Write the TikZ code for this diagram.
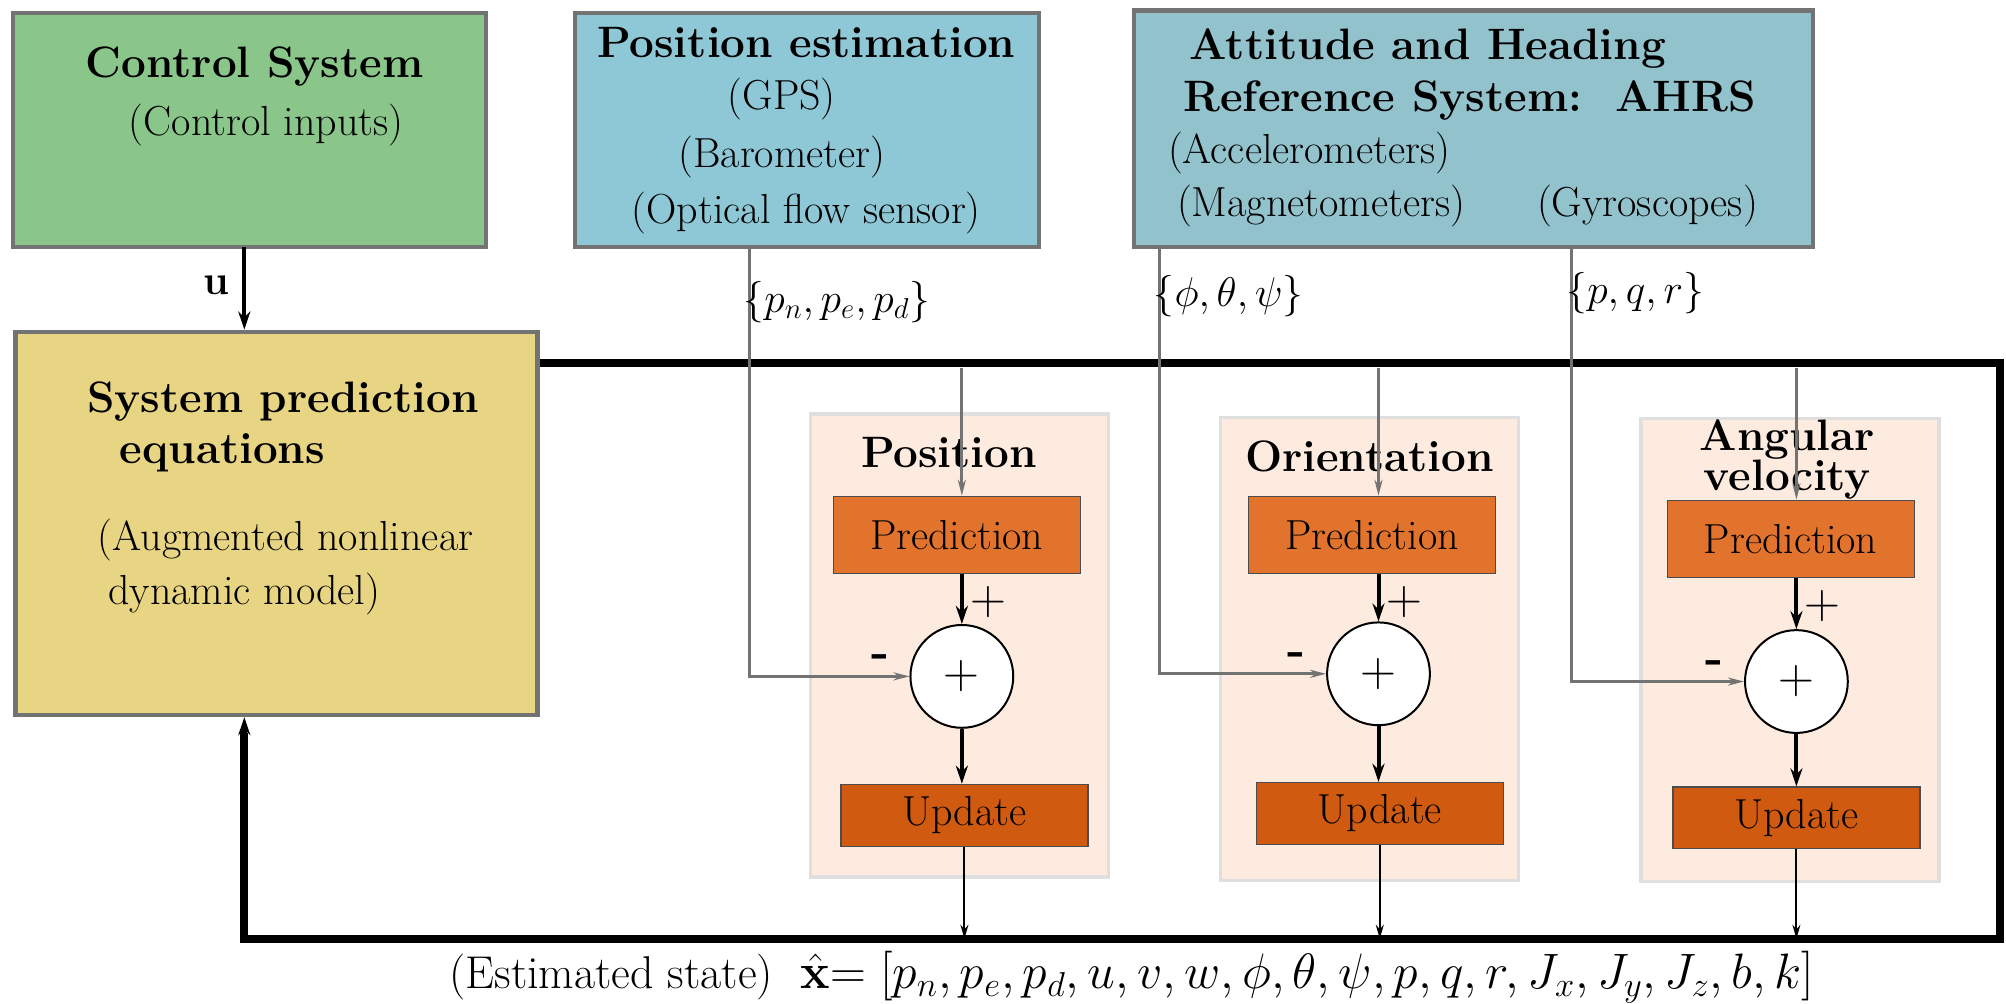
\documentclass[tikz,border=0pt]{standalone}
\usepackage{amsmath,amssymb,bm}
\usetikzlibrary{arrows.meta}
\definecolor{ctrlgreen}{RGB}{138,198,138}
\definecolor{sensblue}{RGB}{142,200,214}
\definecolor{ahrsblue}{RGB}{146,194,204}
\definecolor{sysyellow}{RGB}{232,213,132}
\definecolor{panelbg}{RGB}{253,235,223}
\definecolor{predor}{RGB}{225,115,45}
\definecolor{updor}{RGB}{208,90,16}
\tikzset{
  bigbox/.style={draw=gray!90!black, line width=2.2pt, inner sep=0pt},
  panel/.style={draw=gray!25, fill=panelbg, line width=1.6pt, inner sep=0pt,
    minimum width=149pt, minimum height=231.5pt},
  pred/.style={draw=black!70, fill=predor, line width=0.6pt, inner sep=0pt,
    minimum width=123.5pt, minimum height=38.6pt, font=\fontsize{21}{24}\selectfont},
  upd/.style={draw=black!70, fill=updor, line width=0.6pt, inner sep=0pt,
    minimum width=123.5pt, minimum height=30.9pt, font=\fontsize{21}{24}\selectfont},
  sum/.style={circle, draw, line width=1pt, fill=white, minimum size=51.4pt, inner sep=0pt,
    font=\fontsize{46}{46}\selectfont},
  txt/.style={inner sep=0pt, font=\fontsize{21}{24}\selectfont},
  ttl/.style={inner sep=0pt, font=\fontsize{22}{24}\selectfont\bfseries},
  sens/.style={draw=gray!90!black, line width=1.4pt},
  sarr/.style={sens, -{Stealth[length=8pt,width=4pt]}},
  flow/.style={draw=black, line width=2pt, -{Stealth[length=9pt,width=6pt]}},
  thin/.style={draw=black, line width=1pt, -{Stealth[length=7pt,width=4pt]}},
  loop/.style={draw=black, line width=4pt, line join=miter},
}
\begin{document}
\begin{tikzpicture}[x=0.643pt,y=-0.643pt]
\useasboundingbox (0,0) rectangle (1560,780);

% top boxes
\node[bigbox, fill=ctrlgreen, minimum width=236.6pt, minimum height=117pt] (ctrl) at (194,101) {};
\node[ttl] (ctrlt) at (198,52) {Control System};
\node[txt] (ctrls) at (207,97) {(Control inputs)};

\node[bigbox, fill=sensblue, minimum width=232pt, minimum height=117pt] (pos) at (627.5,101) {};
\node[ttl] (post) at (627,33) {Position estimation};
\node[txt] (gps) at (608,77) {(GPS)};
\node[txt] (baro) at (608,122) {(Barometer)};
\node[txt] (opt) at (627,166) {(Optical flow sensor)};

\node[bigbox, fill=ahrsblue, minimum width=339.5pt, minimum height=118.3pt] (ahrs) at (1146,100) {};
\node[ttl, anchor=west] (ahrst1) at (925,38) {Attitude and Heading};
\node[ttl, anchor=west] (ahrst2) at (920,78) {Reference System:\ \ AHRS};
\node[txt, anchor=west] (acc) at (908,119) {(Accelerometers)};
\node[txt, anchor=west] (mag) at (915,160) {(Magnetometers)};
\node[txt, anchor=west] (gyr) at (1195,160) {(Gyroscopes)};

% system prediction
\node[bigbox, fill=sysyellow, minimum width=261pt, minimum height=191.6pt] (sys) at (215,407) {};
\node[ttl] (syst1) at (220,312) {System prediction};
\node[ttl] (syst2) at (173,352) {equations};
\node[txt] (sys1) at (222,420) {(Augmented nonlinear};
\node[txt] (sys2) at (190,462) {dynamic model)};

\draw[flow] (190,192) -- (sys.north -| 190,0);
\node[inner sep=0pt, font=\fontsize{22}{24}\selectfont] (ul) at (168,222) {$\mathbf{u}$};

% panels
\node[panel] (p1) at (746,502) {};
\node[panel] (p2) at (1065,504.5) {};
\node[panel] (p3) at (1392,505.5) {};
\node[ttl] (p1t) at (738,352) {Position};
\node[ttl] (p2t) at (1065,355) {Orientation};
\node[ttl] (p3t) at (1390,342) {Angular};
\node[ttl] (p3t2) at (1390,373) {velocity};

\node[pred] (pr1) at (744,416) {Prediction};
\node[pred] (pr2) at (1067,416) {Prediction};
\node[pred] (pr3) at (1392.5,419) {Prediction};
\node[sum] (s1) at (748,526) {$+$};
\node[sum] (s2) at (1072,524) {$+$};
\node[sum] (s3) at (1397,530) {$+$};
\node[upd] (u1) at (750,634) {Update};
\node[upd] (u2) at (1073,632.5) {Update};
\node[upd] (u3) at (1397,636) {Update};

% feedback loop
\coordinate (lA) at (1555,282);
\coordinate (lB) at (1555,730);
\coordinate (lC) at (190,730);
\draw[loop] (sys.east |- lA) -- (lA) -- (lB) -- (lC) -- (190,570);
\draw[flow, line width=3pt] (190,600) -- (sys.south -| lC);

% sensor lines
\foreach \x/\s in {583/s1, 902/s2, 1222/s3}{
  \draw[sarr] (\x,192) |- (\s.west);
}
\foreach \x/\pr in {748/pr1, 1072/pr2, 1397/pr3}{
  \draw[sarr] (\x,286) -- (\pr.north -| \x,0);
}
\node[txt, anchor=west] (l1) at (578,235) {$\{p_n, p_e, p_d\}$};
\node[txt, anchor=west] (l2) at (897,230) {$\{\phi, \theta, \psi\}$};
\node[txt, anchor=west] (l3) at (1218,228) {$\{p, q, r\}$};

% inner flow
\foreach \pr/\s/\u in {pr1/s1/u1, pr2/s2/u2, pr3/s3/u3}{
  \draw[flow] (\pr.south -| \s) -- (\s.north);
  \draw[flow] (\s.south) -- (\u.north -| \s);
  \node[inner sep=0pt, font=\fontsize{28}{28}\selectfont, anchor=west] at ([xshift=4pt,yshift=-14pt]\pr.south -| \s) {$+$};
  \node[inner sep=0pt, font=\fontsize{24}{24}\selectfont\bfseries, anchor=south east] at ([xshift=-10pt,yshift=4pt]\s.west) {-};
  \draw[thin] (\u.south) -- (\u.south |- lB);
}

\node[inner sep=0pt, font=\fontsize{23}{26}\selectfont] (est) at (880,760) {(Estimated state)\ \ $\hat{\mathbf{x}}{=}\ [p_n, p_e, p_d, u, v, w, \phi, \theta, \psi, p, q, r, J_x, J_y, J_z, b, k]$};
\end{tikzpicture}
\end{document}
